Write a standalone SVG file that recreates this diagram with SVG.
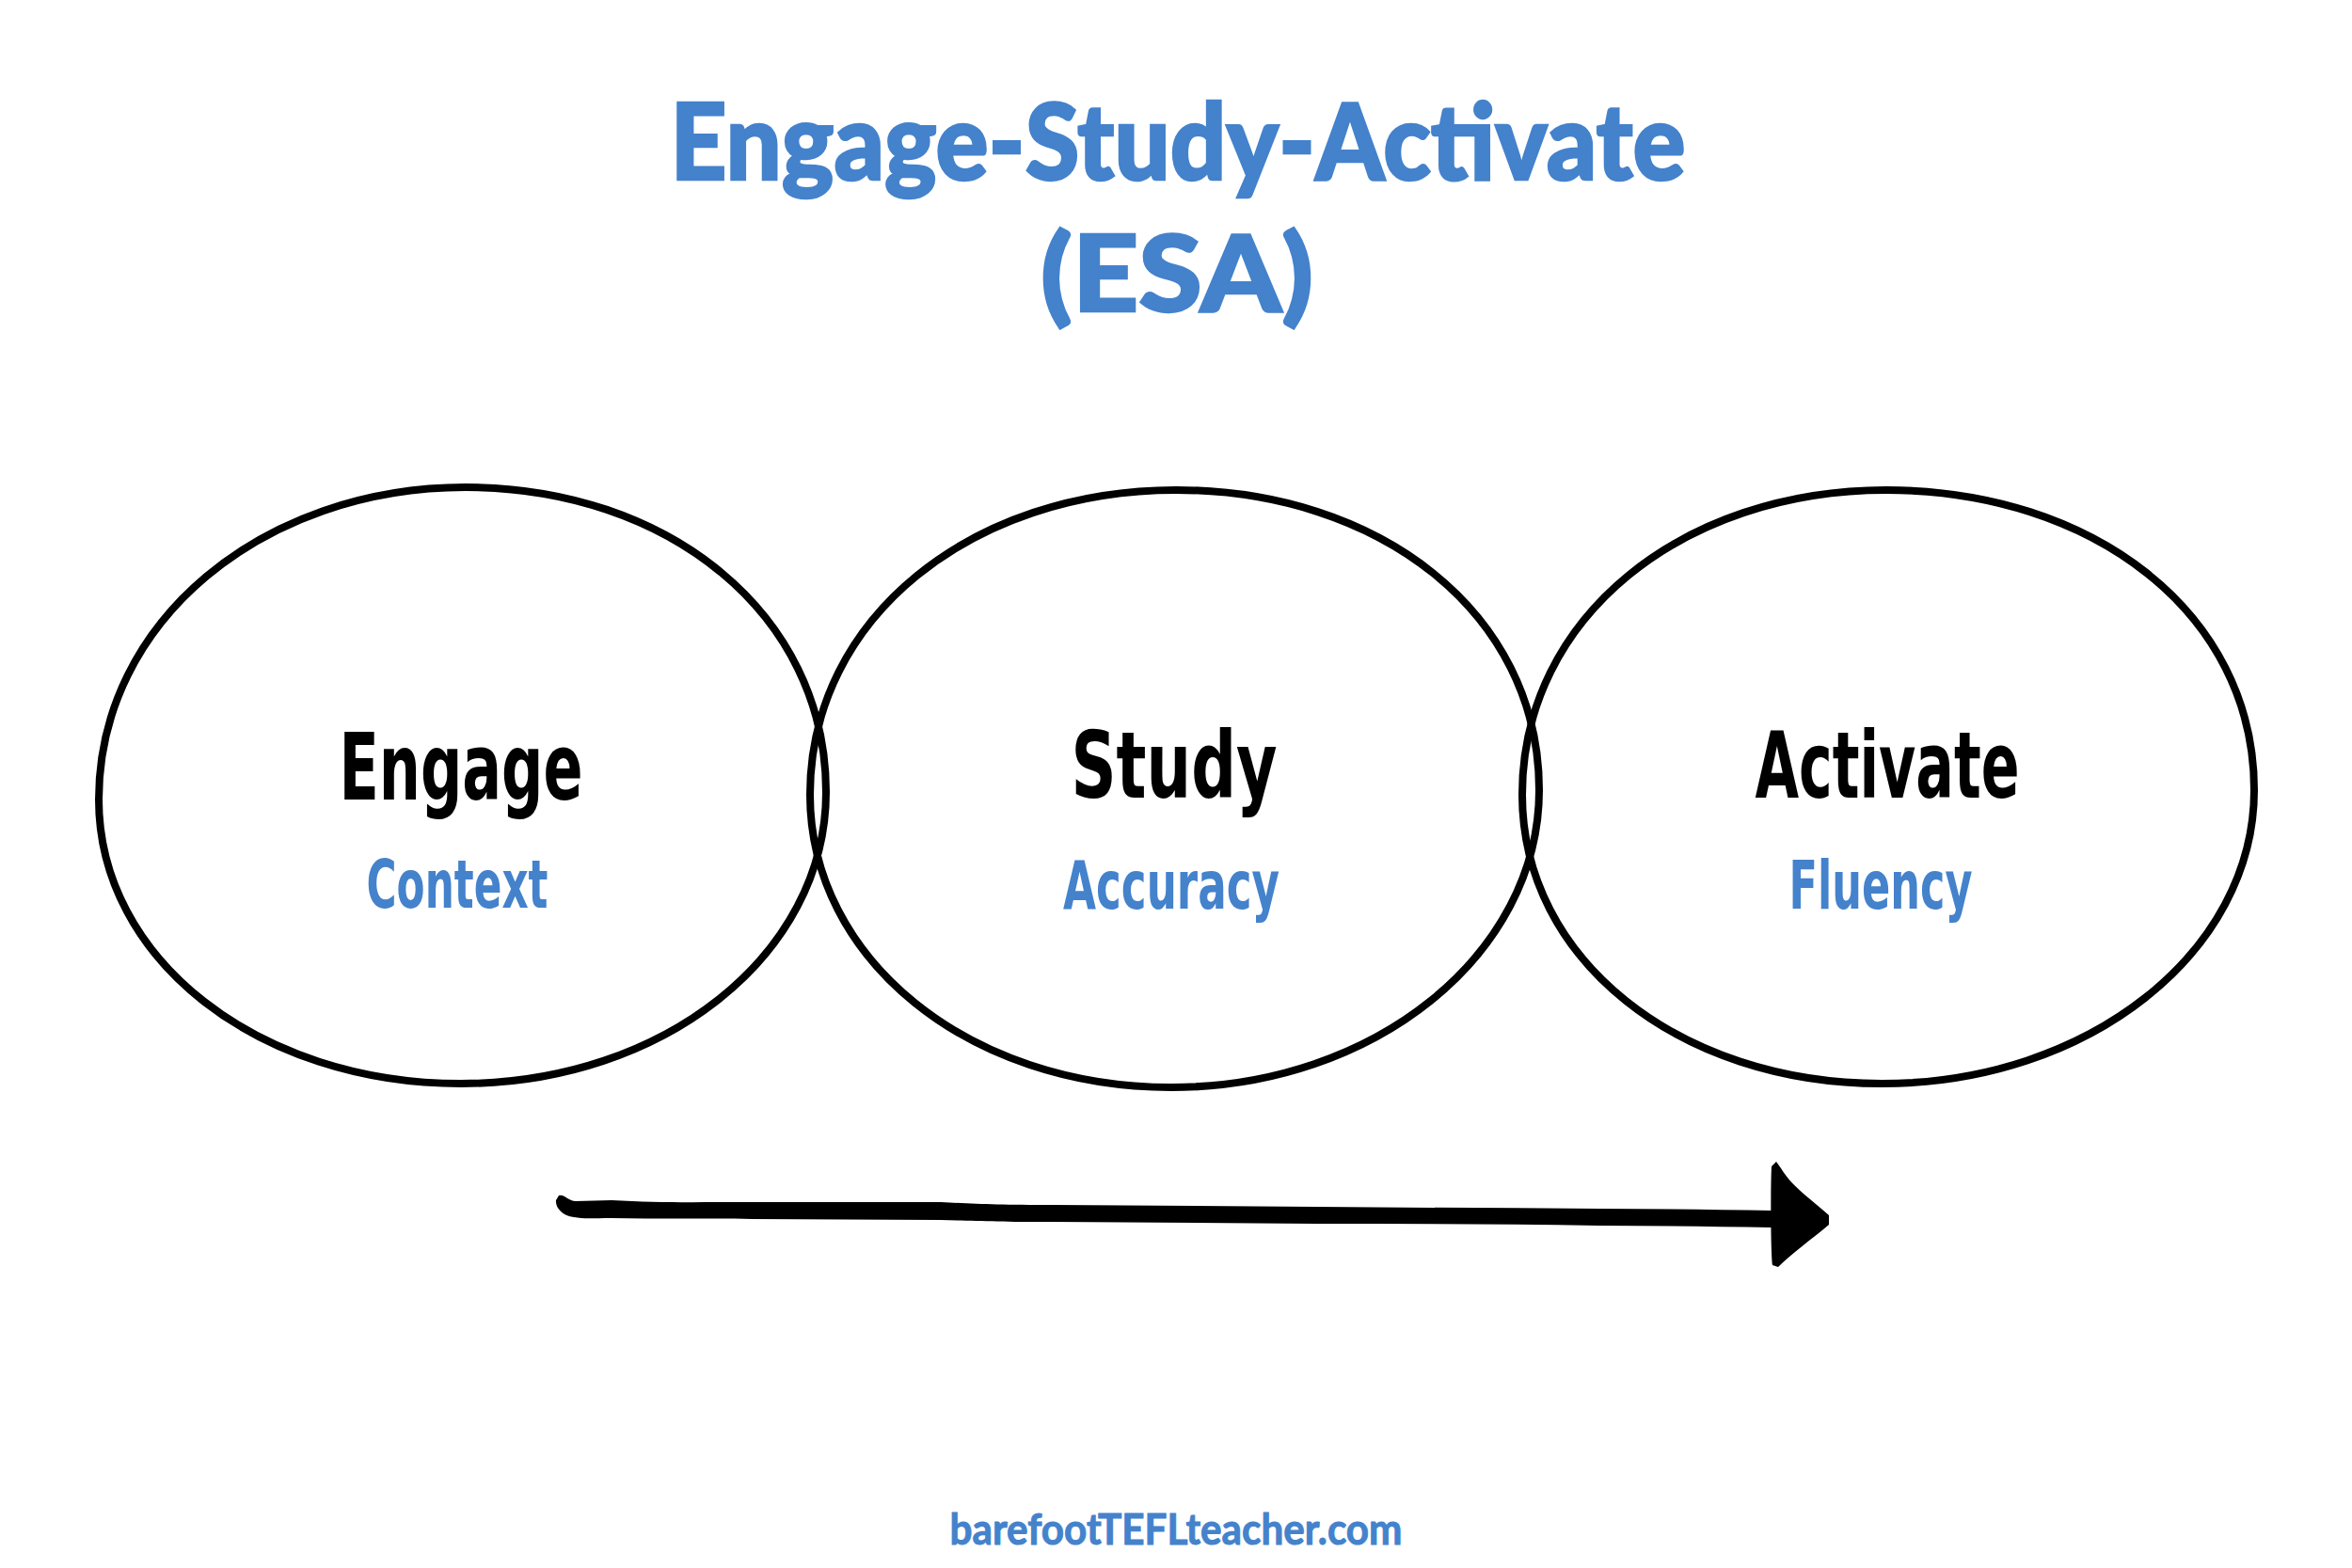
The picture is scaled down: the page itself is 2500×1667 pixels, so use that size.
<svg xmlns="http://www.w3.org/2000/svg" width="2500" height="1667" viewBox="0 0 2500 1667">
<style>
.title{font-family:Lato,"Open Sans","Liberation Sans",sans-serif;font-weight:900;fill:#4482CC;stroke:#4482CC;stroke-width:2.5;text-anchor:middle}
.foot{font-family:Lato,"Open Sans","Liberation Sans",sans-serif;font-weight:700;fill:#4482CC;stroke:#4482CC;stroke-width:1;text-anchor:middle}
.main{font-family:"DejaVu Sans Condensed","DejaVu Sans",sans-serif;font-stretch:condensed;font-weight:bold;fill:#000;text-anchor:middle;font-size:98px}
.sub{font-family:"DejaVu Sans Condensed","DejaVu Sans",sans-serif;font-stretch:condensed;font-weight:bold;fill:#4482CC;text-anchor:middle;font-size:72px}
.ring{fill:none;stroke:#000;stroke-width:8;stroke-linejoin:round}
</style>
<rect width="2500" height="1667" fill="#fff"/>
<g id="title">
<text class="title" x="1252" y="191" font-size="112" textLength="1079" lengthAdjust="spacingAndGlyphs">Engage-Study-Activate</text>
<text class="title" x="1251" y="331" font-size="112" textLength="290" lengthAdjust="spacingAndGlyphs">(ESA)</text>
</g>
<g id="engage">
<path class="ring" d="M495,518 C709,518 878,652 878,842 C878,1015 705,1152 490,1152 C275,1152 105,1020 105,850 C105,660 280,518 495,518 Z"/>
<text class="main" x="490" y="850" textLength="259" lengthAdjust="spacingAndGlyphs">Engage</text>
<text class="sub" x="486" y="965" textLength="193" lengthAdjust="spacingAndGlyphs">Context</text>
</g>
<g id="study">
<path class="ring" d="M1250,521 C1464,521 1636,650 1636,840 C1636,1015 1460,1156 1245,1156 C1030,1156 861,1020 861,845 C861,655 1035,521 1250,521 Z"/>
<text class="main" x="1248" y="848" textLength="219" lengthAdjust="spacingAndGlyphs">Study</text>
<text class="sub" x="1245" y="966" textLength="230" lengthAdjust="spacingAndGlyphs">Accuracy</text>
</g>
<g id="activate">
<path class="ring" d="M2005,521 C2222,521 2396,650 2396,840 C2396,1012 2220,1152 2000,1152 C1785,1152 1618,1020 1618,845 C1618,655 1790,521 2005,521 Z"/>
<text class="main" x="2006" y="848" textLength="281" lengthAdjust="spacingAndGlyphs">Activate</text>
<text class="sub" x="1999" y="966" textLength="195" lengthAdjust="spacingAndGlyphs">Fluency</text>
</g>
<g id="connectors">
<path d="M594,1271 C600,1269 604,1277 612,1277 L650,1276 C700,1279 740,1278 800,1278 L1000,1278 C1040,1280 1060,1281 1120,1281 L1400,1283 C1500,1284 1600,1284 1700,1285 C1760,1285 1820,1286 1884,1287 L1884,1305 C1820,1304 1760,1303 1700,1303 C1600,1301 1500,1301 1400,1301 L1120,1299 C1060,1299 1040,1298 1000,1297 L800,1296 C740,1295 700,1296 650,1295 C630,1295 620,1296 610,1294 C598,1293 590,1284 591,1276 Z" fill="#000"/>
<path d="M1883,1240 L1888,1235 L1893,1242 C1905,1262 1925,1275 1944,1292 L1944,1302 C1925,1318 1905,1332 1890,1347 L1884,1345 C1882,1330 1882,1260 1883,1240 Z" fill="#000"/>
</g>
<g id="footer">
<text class="foot" x="1250" y="1642" font-size="46" textLength="481" lengthAdjust="spacingAndGlyphs">barefootTEFLteacher.com</text>
</g>
</svg>
